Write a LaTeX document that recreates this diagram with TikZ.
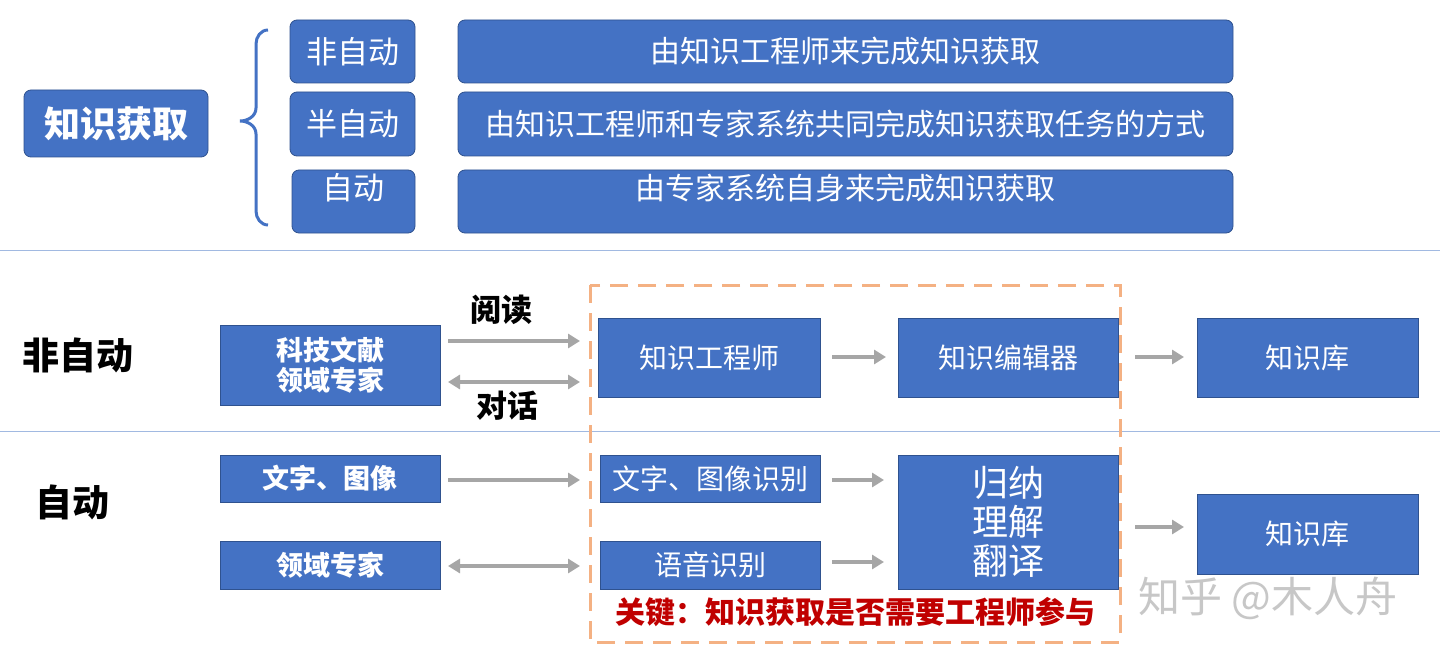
\documentclass[tikz,border=0pt]{standalone}
\usepackage{fontspec}
\setmainfont{Noto Sans CJK SC}
\usetikzlibrary{arrows.meta}
\definecolor{bb}{HTML}{4472C4}
\definecolor{bd}{HTML}{2F528F}
\definecolor{ar}{HTML}{A6A6A6}
\definecolor{og}{HTML}{F4B183}
\definecolor{kr}{HTML}{C00000}
\tikzset{
 rbox/.style={draw=bd,fill=bb,rounded corners=7pt,line width=0.8pt,text=white,font=\fontsize{31}{34}\selectfont},
 sbox/.style={draw=bd,fill=bb,line width=0.8pt,text=white,font=\fontsize{28}{32}\selectfont},
 bbox/.style={sbox,font=\bfseries\fontsize{27}{32}\selectfont,align=center},
 garr/.style={draw=ar,line width=3.5pt,-{Triangle[length=12pt,width=14pt]}},
 gdarr/.style={draw=ar,line width=3.5pt,{Triangle[length=12pt,width=14pt]}-{Triangle[length=12pt,width=14pt]}},
}
\newcommand{\bx}[6]{\node[#1,minimum width=#4-#2,minimum height=#5-#3,inner sep=0pt] (#6) at ({(#2+#4)/2},{(#3+#5)/2})}
\begin{document}
\begin{tikzpicture}[x=1pt,y=-1pt]
\useasboundingbox (0,0) rectangle (1440,655);
\fill[white] (0,0) rectangle (1440,655);
\bx{rbox,font=\bfseries\fontsize{36}{40}\selectfont}{24}{90}{208}{157}{ka} {知识获取};
\draw[bb,line width=3pt] (268,30) to[out=180,in=90] (256,44) -- (256,108) to[out=-90,in=0] (240,121) to[out=0,in=90] (256,134) -- (256,211) to[out=-90,in=180] (268,225);
\bx{rbox}{290}{20}{415}{83}{a1} {非自动};
\bx{rbox}{290}{92}{415}{156}{a2} {半自动};
\bx{rbox,text depth=30pt}{292}{170}{415}{233}{a3} {自动};
\bx{rbox,font=\fontsize{30}{34}\selectfont}{458}{20}{1233}{83}{b1} {由知识工程师来完成知识获取};
\bx{rbox,font=\fontsize{30}{34}\selectfont}{458}{92}{1233}{156}{b2} {由知识工程师和专家系统共同完成知识获取任务的方式};
\bx{rbox,font=\fontsize{30}{34}\selectfont,text depth=30pt}{458}{170}{1233}{233}{b3} {由专家系统自身来完成知识获取};
\draw[bb!50,line width=0.8pt] (0,250) -- (1440,250);
\draw[bb!50,line width=0.8pt] (0,431) -- (1440,431);
\node[font=\bfseries\fontsize{37}{40}\selectfont] (l1) at (78,355) {非自动};
\node[font=\bfseries\fontsize{37}{40}\selectfont] (l2) at (72,502) {自动};
\draw[og,line width=3pt,dash pattern=on 18pt off 10pt] (590,285) rectangle (1120,642);
\bx{bbox}{220}{325}{440}{405}{s1} {科技文献\\[-2pt]领域专家};
\bx{sbox}{598}{318}{820}{397}{k1} {知识工程师};
\bx{sbox}{898}{318}{1118}{397}{k2} {知识编辑器};
\bx{sbox}{1197}{318}{1418}{397}{k3} {知识库};
\coordinate (p1) at (448,341); \coordinate (p2) at (580,341);
\coordinate (p3) at (448,382); \coordinate (p4) at (580,382);
\draw[garr] (p1) -- (p2);
\draw[gdarr] (p3) -- (p4);
\node[font=\bfseries\fontsize{31}{34}\selectfont] (rd) at (501,310) {阅读};
\node[font=\bfseries\fontsize{31}{34}\selectfont] (dh) at (507,406) {对话};
\draw[garr] (832,357) -- (886,357);
\draw[garr] (1135,357) -- (1184,357);
\bx{bbox}{220}{455}{440}{502}{s2} {文字、图像};
\bx{bbox}{220}{541}{440}{589}{s3} {领域专家};
\bx{sbox}{600}{455}{820}{502}{r1} {文字、图像识别};
\bx{sbox}{600}{541}{820}{589}{r2} {语音识别};
\bx{sbox,font=\fontsize{36}{43}\selectfont,align=center}{898}{455}{1118}{589}{gn} {归纳\\[-4pt]理解\\[-4pt]翻译};
\bx{sbox}{1197}{494}{1418}{574}{k4} {知识库};
\draw[garr] (448,480) -- (580,480);
\draw[gdarr] (448,566) -- (580,566);
\draw[garr] (832,480) -- (884,480);
\draw[garr] (832,562) -- (884,562);
\draw[garr] (1135,527) -- (1184,527);
\node[text=kr,font=\bfseries\fontsize{30}{34}\selectfont] (key) at (855,612) {关键：知识获取是否需要工程师参与};
\node[text=black!22,font=\fontsize{42}{46}\selectfont] (wm) at (1268,598) {知乎 @木人舟};
\end{tikzpicture}
\end{document}
